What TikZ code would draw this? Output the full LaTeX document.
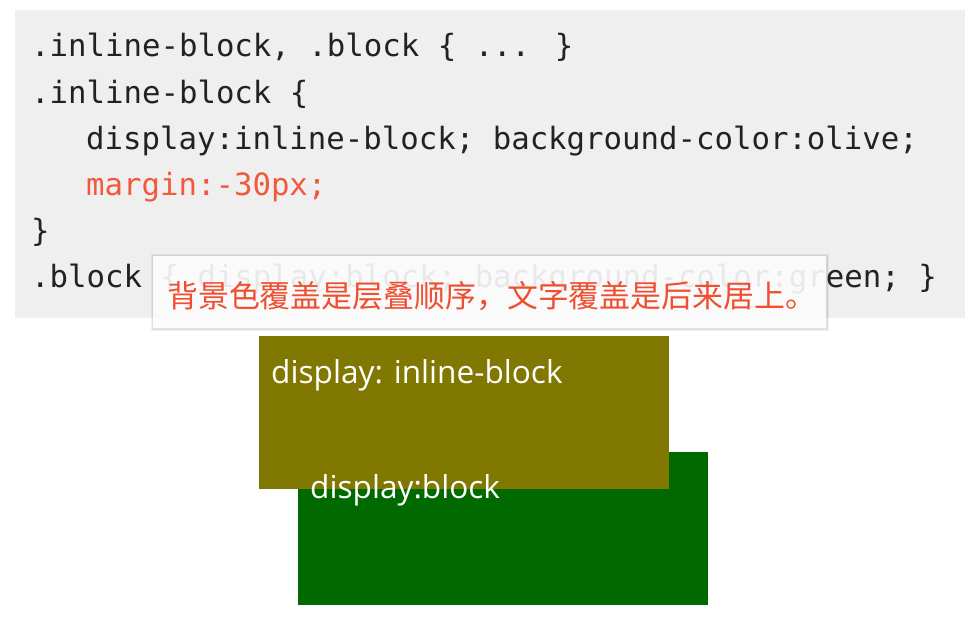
\documentclass[tikz,border=0pt]{standalone}
\usepackage{fontspec}
\setmainfont{Open Sans}
\newfontfamily\codefont{DejaVu Sans Mono}
\newfontfamily\cjk{Noto Sans CJK SC}
\definecolor{codebg}{RGB}{239,239,240}
\definecolor{codetext}{RGB}{34,34,34}
\definecolor{marginred}{RGB}{242,88,60}
\definecolor{noteRed}{RGB}{240,78,48}
\definecolor{oliveBox}{RGB}{128,120,0}
\definecolor{greenBox}{RGB}{0,106,0}
\tikzset{
  codeline/.style={anchor=base west, inner sep=0pt, text=codetext, font=\codefont\fontsize{30.7}{30.7}\selectfont},
  boxtext/.style={anchor=base west, inner sep=0pt, text=white, font=\fontsize{31.6}{31.6}\selectfont},
}
\begin{document}
\begin{tikzpicture}[x=1pt,y=-1pt]
\useasboundingbox (0,0) rectangle (976,623);
\fill[white] (0,0) rectangle (976,623);
% code panel
\fill[codebg] (15,10) rectangle (965,318);
\node[codeline] (l1) at (31,57) {.inline-block, .block \{ ... \}};
\node[codeline] (l2) at (31,103) {.inline-block \{};
\node[codeline] (l3) at (86,149) {display:inline-block; background-color:olive;};
\node[codeline, text=marginred] (l4) at (86,195) {margin:-30px;};
\node[codeline] (l5) at (31,241) {\}};
\node[codeline] (l6) at (31,287) {.block \{ display:block; background-color:green; \}};
% note overlay
\fill[black, opacity=0.06] (151,254) rectangle (829,331);
\fill[black, opacity=0.06] (152,255) rectangle (828,330);
\fill[white, opacity=0.9] (153,256) rectangle (826,328);
\node[anchor=base west, inner sep=0pt, text=noteRed, font=\cjk\fontsize{30.9}{30.9}\selectfont] (note) at (167,307) {背景色覆盖是层叠顺序，文字覆盖是后来居上。};
% boxes
\fill[greenBox] (298,452) rectangle (708,605);
\fill[oliveBox] (259,336) rectangle (669,489);
\node[boxtext] (t1) at (271,383) {display: inline-block};
\node[boxtext] (t2) at (310,498) {display:block};
\end{tikzpicture}
\end{document}
